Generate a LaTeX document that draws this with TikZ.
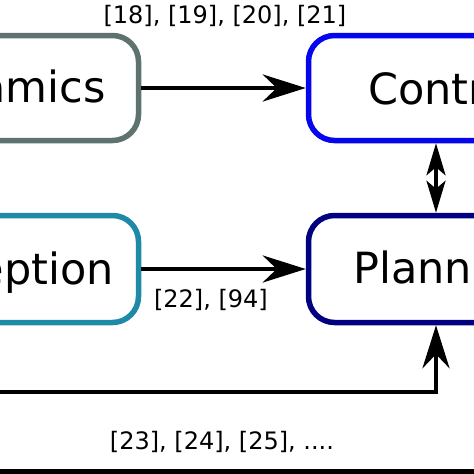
\documentclass[tikz,border=0pt]{standalone}
\usepackage{fontspec}
\setmainfont{DejaVu Sans}
\usetikzlibrary{arrows.meta}
\definecolor{dyncol}{HTML}{5E7370}
\definecolor{percol}{HTML}{1F8AA7}
\definecolor{ctrlcol}{HTML}{0505EE}
\definecolor{plancol}{HTML}{000080}
\tikzset{
  boxsh/.style={draw, line width=5.5pt, rounded corners=26pt, fill=white, inner sep=0pt},
  boxtxt/.style={font=\fontsize{43}{50}\selectfont, inner sep=0pt},
  reftxt/.style={font=\fontsize{24}{28}\selectfont, inner sep=0pt},
  arr/.style={line width=4.5pt, -{Stealth[length=43pt, width=27pt, inset=14pt]}},
  darr/.style={line width=3.5pt, {Stealth[length=32pt, width=19pt, inset=8pt]}-{Stealth[length=32pt, width=19pt, inset=8pt]}},
}
\begin{document}
\begin{tikzpicture}[x=1pt, y=-1pt]
\useasboundingbox (0,0) rectangle (474,474);
\clip (0,0) rectangle (474,474);
% boxes
\node[boxsh, draw=dyncol, minimum width=300pt, minimum height=105pt] (dyn) at (-11.5,88) {};
\node[boxsh, draw=ctrlcol, minimum width=250pt, minimum height=105pt] (ctrl) at (433.5,88) {};
\node[boxsh, draw=percol, minimum width=300pt, minimum height=107pt] (per) at (-11.5,269) {};
\node[boxsh, draw=plancol, minimum width=250pt, minimum height=107pt] (plan) at (433.5,269) {};
% box texts
\node[boxtxt, anchor=base east] (dyntxt) at (106,102) {amics};
\node[boxtxt, anchor=base west] (ctrltxt) at (368,104) {Contr};
\node[boxtxt, anchor=base east] (pertxt) at (114,284) {eption};
\node[boxtxt, anchor=base west] (plantxt) at (353,283) {Plann};
% connectors
\draw[arr] (dyn.east) -- (ctrl.west);
\draw[arr] (per.east) -- (plan.west);
\coordinate (vx) at (436,0);
\draw[darr] (ctrl.south -| vx) -- (plan.north -| vx);
\coordinate (fbstart) at (-10,392);
\draw[arr] (fbstart) -| (plan.south -| vx);
\coordinate (bandl) at (-10,472);
\coordinate (bandr) at (484,472);
\draw[line width=6pt] (bandl) -- (bandr);
% reference labels
\node[reftxt, anchor=base] (lab1) at (225,23) {[18], [19], [20], [21]};
\node[reftxt, anchor=base] (lab2) at (211,307) {[22], [94]};
\node[reftxt, anchor=base] (lab3) at (222,449) {[23], [24], [25], ....};
\end{tikzpicture}
\end{document}
